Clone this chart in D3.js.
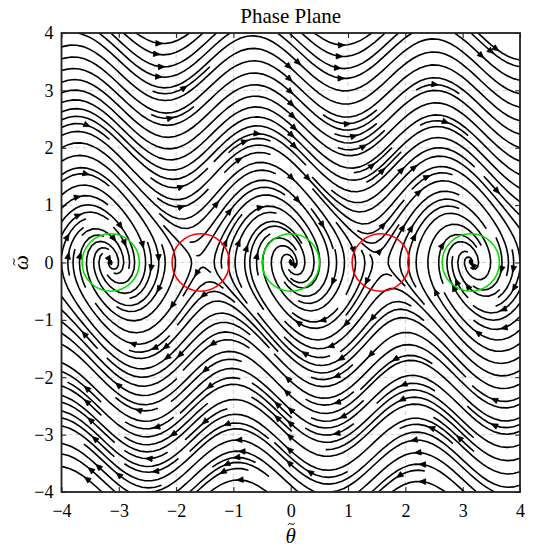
<!DOCTYPE html>
<html>
<head>
<meta charset="utf-8">
<script src="https://cdn.jsdelivr.net/npm/d3@7"></script>
<style>
  body { margin: 0; background: #fff; }
  text { font-family: "Liberation Serif", "DejaVu Serif", serif; fill: #000; }
</style>
</head>
<body>
<svg id="chart" width="533" height="550"></svg>
<script>
/*
    Phase plane streamplot, integrated the same way matplotlib's streamplot does it
 */

// axis ranges and ticks
const xDomain = [-4, 4];
const yDomain = [-4, 4];
const xTicks = [-4, -3, -2, -1, 0, 1, 2, 3, 4];
const yTicks = [-4, -3, -2, -1, 0, 1, 2, 3, 4];

// vector field: theta' = omega, omega' = -a sin(2 theta) - b omega cos(2 theta)
const fieldCoef = [0.9, 0.9];

// equilibrium markers
const stableCenters = [-Math.PI, 0, Math.PI];
const saddleCenters = [-Math.PI / 2, Math.PI / 2];
const markerRadius = [0.5];

// streamplot settings
const density = [2.3];
const lengthLimits = [0.1, 4.0]; // min, max (axes units)

const margin = {left: 61.5, right: 13, top: 33, bottom: 58};
const W = 533, H = 550;
const svg = d3.select("#chart");

let xScale = d3.scaleLinear().domain(xDomain).range([margin.left, W - margin.right]);
let yScale = d3.scaleLinear().domain(yDomain).range([H - margin.bottom, margin.top]);

function field(t, w) {
    let a = fieldCoef[0], b = fieldCoef[1];
    return [w, -a * Math.sin(2 * t) - b * w * Math.cos(2 * t)];
}

// ---- streamplot machinery (axes coordinates 0..1) ----
const spanX = xDomain[1] - xDomain[0];
const spanY = yDomain[1] - yDomain[0];
const N = Math.round(30 * density[0]);
let mask = new Uint8Array(N * N);
let traj = [];
let current = null;

function toData(p) {
    return [xDomain[0] + p[0] * spanX, yDomain[0] + p[1] * spanY];
}
function grid2mask(X, Y) {
    return [Math.round(X * (N - 1)), Math.round(Y * (N - 1))];
}
function within(X, Y) {
    return X >= 0 && X <= 1 && Y >= 0 && Y <= 1;
}
function updateTrajectory(X, Y) {
    if (!within(X, Y)) throw "invalid";
    let [xm, ym] = grid2mask(X, Y);
    if (!current || current[0] != xm || current[1] != ym) {
        if (mask[ym * N + xm] == 0) {
            traj.push(ym * N + xm);
            mask[ym * N + xm] = 1;
            current = [xm, ym];
        } else {
            throw "invalid";
        }
    }
}

function makeStep(sign) {
    return (X, Y) => {
        if (!within(X, Y)) throw "oob";
        let d = toData([X, Y]);
        let f = field(d[0], d[1]);
        let U = f[0] / spanX, V = f[1] / spanY;
        let s = Math.hypot(U, V);
        if (s == 0) throw "stop";
        return [sign * U / s, sign * V / s];
    };
}

function eulerStep(pts, f) {
    let [xi, yi] = pts[pts.length - 1];
    let [cx, cy] = f(xi, yi);
    let dsx = cx == 0 ? Infinity : (cx < 0 ? xi / -cx : (1 - xi) / cx);
    let dsy = cy == 0 ? Infinity : (cy < 0 ? yi / -cy : (1 - yi) / cy);
    let ds = Math.min(dsx, dsy);
    pts.push([xi + cx * ds, yi + cy * ds]);
    return ds;
}

function rk12(x0, y0, f) {
    const maxerror = 0.003;
    const maxds = Math.min(1 / N, 0.1);
    let ds = maxds, stotal = 0, xi = x0, yi = y0;
    let pts = [];
    while (true) {
        let k1, k2;
        try {
            if (within(xi, yi)) pts.push([xi, yi]);
            else throw "oob";
            k1 = f(xi, yi);
            k2 = f(xi + ds * k1[0], yi + ds * k1[1]);
        } catch (e) {
            if (e == "oob" && pts.length) stotal += eulerStep(pts, f);
            break;
        }
        let dx1 = ds * k1[0], dy1 = ds * k1[1];
        let dx2 = ds * 0.5 * (k1[0] + k2[0]), dy2 = ds * 0.5 * (k1[1] + k2[1]);
        let error = Math.hypot(dx2 - dx1, dy2 - dy1);
        if (error < maxerror) {
            xi += dx2;
            yi += dy2;
            try {
                updateTrajectory(xi, yi);
            } catch (e) {
                break;
            }
            if (stotal + ds > lengthLimits[1]) break;
            stotal += ds;
        }
        ds = error == 0 ? maxds : Math.min(maxds, 0.85 * ds * Math.sqrt(maxerror / error));
    }
    return [stotal, pts];
}

function integrate(x0, y0) {
    traj = [];
    try {
        updateTrajectory(x0, y0);
    } catch (e) {
        return null;
    }
    let [s1, back] = rk12(x0, y0, makeStep(-1));
    current = grid2mask(x0, y0);
    let [s2, fwd] = rk12(x0, y0, makeStep(1));
    let pts = back.reverse().concat(fwd.slice(1));
    if (s1 + s2 > lengthLimits[0]) return pts;
    traj.forEach(k => mask[k] = 0);
    return null;
}

function* startingPoints() {
    let xfirst = 0, yfirst = 1, xlast = N - 1, ylast = N - 1;
    let x = 0, y = 0, dir = "right";
    for (let i = 0; i < N * N; i++) {
        yield [x, y];
        if (dir == "right") {
            x += 1;
            if (x >= xlast) { xlast -= 1; dir = "up"; }
        } else if (dir == "up") {
            y += 1;
            if (y >= ylast) { ylast -= 1; dir = "left"; }
        } else if (dir == "left") {
            x -= 1;
            if (x <= xfirst) { xfirst += 1; dir = "down"; }
        } else {
            y -= 1;
            if (y <= yfirst) { yfirst += 1; dir = "right"; }
        }
    }
}

let streamlines = [];
for (let [xm, ym] of startingPoints()) {
    if (mask[ym * N + xm] == 0) {
        let t = integrate(xm / (N - 1), ym / (N - 1));
        if (t) streamlines.push(t.map(toData));
    }
}

// ---- drawing ----
svg.append("clipPath").attr("id", "plot-clip").append("rect")
    .attr("x", xScale(xDomain[0])).attr("y", yScale(yDomain[1]))
    .attr("width", xScale(xDomain[1]) - xScale(xDomain[0]))
    .attr("height", yScale(yDomain[0]) - yScale(yDomain[1]));

// grid
let gridG = svg.append("g").attr("class", "grid");
gridG.selectAll("line.gx").data(xTicks).enter().append("line")
    .attr("x1", d => xScale(d)).attr("x2", d => xScale(d))
    .attr("y1", yScale(yDomain[0])).attr("y2", yScale(yDomain[1]));
gridG.selectAll("line.gy").data(yTicks).enter().append("line")
    .attr("y1", d => yScale(d)).attr("y2", d => yScale(d))
    .attr("x1", xScale(xDomain[0])).attr("x2", xScale(xDomain[1]));
gridG.selectAll("line")
    .attr("stroke", "#c8c8c8").attr("stroke-width", 0.8)
    .attr("stroke-dasharray", "4,3");

let plotG = svg.append("g").attr("clip-path", "url(#plot-clip)");
let line = d3.line().x(d => xScale(d[0])).y(d => yScale(d[1]));

plotG.selectAll("path.stream").data(streamlines).enter().append("path")
    .attr("class", "stream")
    .attr("d", line)
    .attr("fill", "none").attr("stroke", "#000").attr("stroke-width", 1.6);

// arrows at the middle of each streamline
let arrows = streamlines.map(pts => {
    let s = [0];
    for (let i = 1; i < pts.length; i++) {
        s.push(s[i - 1] + Math.hypot(pts[i][0] - pts[i - 1][0], pts[i][1] - pts[i - 1][1]));
    }
    let half = s[s.length - 1] / 2;
    let n = d3.bisectLeft(s.slice(1), half);
    let tail = pts[n];
    let nxt = pts[Math.min(n + 1, pts.length - 1)];
    let head = [(tail[0] + nxt[0]) / 2, (tail[1] + nxt[1]) / 2];
    return {tail, head};
});

plotG.selectAll("path.arrow").data(arrows).enter().append("path")
    .attr("class", "arrow")
    .attr("d", d => {
        let x0 = xScale(d.tail[0]), y0 = yScale(d.tail[1]);
        let x1 = xScale(d.head[0]), y1 = yScale(d.head[1]);
        let ang = Math.atan2(y1 - y0, x1 - x0);
        let len = 6.5, hw = 2.8;
        let bx = x1 - len * Math.cos(ang), by = y1 - len * Math.sin(ang);
        let px = -Math.sin(ang) * hw, py = Math.cos(ang) * hw;
        return `M${x1},${y1}L${bx + px},${by + py}L${bx - px},${by - py}Z`;
    })
    .attr("fill", "#000").attr("stroke", "#000").attr("stroke-width", 0.8);

// equilibrium circles
let circleData = stableCenters.map(c => ({c, color: "#00e000"}))
    .concat(saddleCenters.map(c => ({c, color: "#ff0000"})));
plotG.selectAll("ellipse").data(circleData).enter().append("ellipse")
    .attr("cx", d => xScale(d.c)).attr("cy", yScale(0))
    .attr("rx", xScale(markerRadius[0]) - xScale(0))
    .attr("ry", yScale(0) - yScale(markerRadius[0]))
    .attr("fill", "none").attr("stroke", d => d.color).attr("stroke-width", 1.6);

// axes with inward ticks
const fmt = d => d < 0 ? "\u2212" + Math.abs(d) : String(d);
let tick = 5;
let axB = svg.append("g").attr("transform", `translate(0,${yScale(yDomain[0])})`)
    .call(d3.axisBottom(xScale).tickValues(xTicks).tickSizeInner(-tick).tickSizeOuter(0).tickPadding(12).tickFormat(fmt));
let axL = svg.append("g").attr("transform", `translate(${xScale(xDomain[0])},0)`)
    .call(d3.axisLeft(yScale).tickValues(yTicks).tickSizeInner(-tick).tickSizeOuter(0).tickPadding(8).tickFormat(fmt));
let axT = svg.append("g").attr("transform", `translate(0,${yScale(yDomain[1])})`)
    .call(d3.axisTop(xScale).tickValues(xTicks).tickSizeInner(-tick).tickSizeOuter(0).tickFormat(""));
let axR = svg.append("g").attr("transform", `translate(${xScale(xDomain[1])},0)`)
    .call(d3.axisRight(yScale).tickValues(yTicks).tickSizeInner(-tick).tickSizeOuter(0).tickFormat(""));
[axB, axL, axT, axR].forEach(ax => {
    ax.select(".domain").remove();
    ax.selectAll(".tick line").attr("stroke", "#000").attr("stroke-width", 0.9);
    ax.selectAll("text").style("font-size", "18px").attr("fill", "#000");
});

svg.append("rect")
    .attr("x", xScale(xDomain[0])).attr("y", yScale(yDomain[1]))
    .attr("width", xScale(xDomain[1]) - xScale(xDomain[0]))
    .attr("height", yScale(yDomain[0]) - yScale(yDomain[1]))
    .attr("fill", "none").attr("stroke", "#222").attr("stroke-width", 1.8);

// labels (tilde drawn as its own glyph above the letter)
let midX = (xScale(xDomain[0]) + xScale(xDomain[1])) / 2;
svg.append("text").attr("x", midX).attr("y", 23)
    .attr("text-anchor", "middle").style("font-size", "21px").text("Phase Plane");

let xLab = svg.append("g").attr("transform", `translate(${midX},543)`);
xLab.append("text").attr("text-anchor", "middle").style("font-size", "21px")
    .style("font-style", "italic").text("\u03b8");
xLab.append("path").attr("d", "M-3,-18 Q-1.5,-20.5 0.5,-19 T4,-20")
    .attr("fill", "none").attr("stroke", "#000").attr("stroke-width", 1);

let yLab = svg.append("g").attr("transform", `translate(28,${yScale(0)}) rotate(-90)`);
yLab.append("text").attr("text-anchor", "middle").style("font-size", "21px")
    .style("font-style", "italic").text("\u03c9");
yLab.append("path").attr("d", "M-3,-13 Q-1.5,-15.5 0.5,-14 T4,-15")
    .attr("fill", "none").attr("stroke", "#000").attr("stroke-width", 1);
</script>
</body>
</html>
